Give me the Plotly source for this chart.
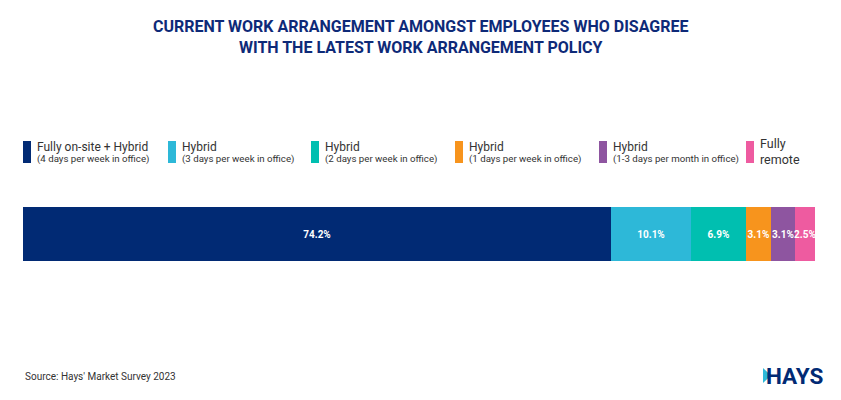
import plotly.graph_objects as go

categories = ["Fully on-site + Hybrid", "Hybrid", "Hybrid", "Hybrid", "Hybrid", "Fully"]
sublabels = ["(4 days per week in office)", "(3 days per week in office)", "(2 days per week in office)",
             "(1 days per week in office)", "(1-3 days per month in office)", "remote"]
values = [74.2, 10.1, 6.9, 3.1, 3.1, 2.5]
colors = ["#012A74", "#2DB8D8", "#00BFB0", "#F7941D", "#8E55A0", "#EE5BA0"]
legend_x = [23, 168, 311, 455, 599, 746]

title = "CURRENT WORK ARRANGEMENT AMONGST EMPLOYEES WHO DISAGREE<br>WITH THE LATEST WORK ARRANGEMENT POLICY"
source = "Source: Hays' Market Survey 2023"

W, H = 841, 400
ML, MR, MT, MB = 23, 26, 207, 139
PW = W - ML - MR
PH = H - MT - MB

def px(x):
    return (x - ML) / PW

def py(y):
    return (H - MB - y) / PH

fig = go.Figure()
for i, v in enumerate(values):
    fig.add_trace(go.Bar(
        x=[v], y=[0], orientation="h", marker=dict(color=colors[i], line=dict(width=0)),
        text=[f"{v}%"], textposition="inside", insidetextanchor="middle", textangle=0,
        constraintext="none", cliponaxis=False,
        textfont=dict(family="Roboto", size=10, color="white", weight="bold"),
        name=categories[i], showlegend=False, hoverinfo="x+name",
    ))

annotations = []
shapes = []
n = len(categories)
for i in range(n):
    x0 = legend_x[i]
    shapes.append(dict(type="rect", xref="paper", yref="paper",
                       x0=px(x0), x1=px(x0 + 8), y0=py(163), y1=py(141),
                       fillcolor=colors[i], line=dict(width=0)))
    if i == n - 1:
        annotations.append(dict(xref="paper", yref="paper", x=px(x0 + 12), y=py(151.5),
                                xanchor="left", yanchor="middle", showarrow=False, align="left",
                                text=categories[i] + "<br>" + sublabels[i],
                                font=dict(family="Roboto", size=12.5, color="#333333")))
    else:
        annotations.append(dict(xref="paper", yref="paper", x=px(x0 + 12), y=py(147),
                                xanchor="left", yanchor="middle", showarrow=False,
                                text=categories[i], font=dict(family="Roboto", size=12, color="#333333")))
        annotations.append(dict(xref="paper", yref="paper", x=px(x0 + 12), y=py(159),
                                xanchor="left", yanchor="middle", showarrow=False,
                                text=sublabels[i], font=dict(family="Roboto", size=9.7, color="#333333")))

annotations.append(dict(xref="paper", yref="paper", x=px(421), y=py(37),
                        xanchor="center", yanchor="middle", showarrow=False, text=title,
                        font=dict(family="Roboto", size=16, color="#0E2A78", weight="bold")))
annotations.append(dict(xref="paper", yref="paper", x=px(23), y=py(376),
                        xanchor="left", yanchor="middle", showarrow=False, text=source,
                        font=dict(family="Roboto", size=10, color="#333333")))
annotations.append(dict(xref="paper", yref="paper", x=px(826), y=py(375.5),
                        xanchor="right", yanchor="middle", showarrow=False, text="<b>HAYS</b>",
                        font=dict(family="Roboto", size=22.5, color="#012A74", weight=900)))
shapes.append(dict(type="path", xref="paper", yref="paper",
                   path=f"M {px(763)},{py(368)} L {px(771)},{py(375.5)} L {px(763)},{py(383)} Z",
                   fillcolor="#2DB8D8", line=dict(width=0), layer="above"))

fig.update_layout(
    width=W, height=H, barmode="stack", bargap=0,
    margin=dict(l=ML, r=MR, t=MT, b=MB, pad=0),
    paper_bgcolor="white", plot_bgcolor="white",
    xaxis=dict(visible=False, range=[0, sum(values)], fixedrange=True),
    yaxis=dict(visible=False, range=[-0.5, 0.5], fixedrange=True),
    annotations=annotations, shapes=shapes, showlegend=False,
)
fig.write_html("out.html")
